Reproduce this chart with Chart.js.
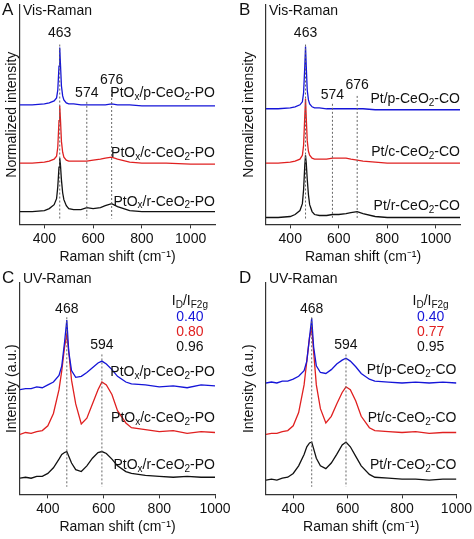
<!DOCTYPE html>
<html><head><meta charset="utf-8">
<script src="https://cdn.jsdelivr.net/npm/chart.js@4"></script>
<style>body{margin:0;background:#fff;width:474px;height:539px;position:relative;overflow:hidden}
.p{position:absolute;width:237px;height:270px}</style></head><body>
<div class="p" style="left:0;top:0"><canvas id="cA"></canvas></div>
<div class="p" style="left:237px;top:0"><canvas id="cB"></canvas></div>
<div class="p" style="left:0;top:270px"><canvas id="cC"></canvas></div>
<div class="p" style="left:237px;top:270px"><canvas id="cD"></canvas></div>
<script>
const visX=[300,350,400,420,440,450,455,460,463,466,470,475,480,490,500,520,550,574,600,630,650,676,700,750,800,900,1000,1100];
const blueA=[121,121,122,123,125,128,136,160,179,162,140,130,126,123,122,122,121,121,121,121,121,122,121,121,120,120,120,120];
const redA=[62,62,63,64,66,69,78,105,120,106,84,73,68,65,64,64,64,64,65,66,67,68,66,63,62,62,61,61];
const blackA=[13,13,14,16,20,26,38,58,67,60,45,32,25,19,16,15,15,17,16,17,19,21,18,14,13,13,13,13];
const blueB=[117,117,118,119,121,124,133,160,180,160,136,126,122,119,118,118,117,117,117,117,117,117,117,116,116,116,116,116];
const redB=[62,62,63,64,66,70,80,110,127,108,85,74,70,67,66,66,66,67,67,67,66,65,64,63,62,62,62,62];
const blackB=[7,7,8,10,14,21,35,60,70,62,46,30,20,13,10,9,9,10,10,11,12,13,11,8,7,7,7,7];
const uvX=[300,320,340,360,380,400,420,440,450,460,468,475,485,500,520,540,560,580,594,610,630,650,680,700,750,800,850,900,950,1000];
const blueC=[110,111,111,113,112,115,118,125,135,160,183,150,130,123,124,128,133,138,140,137,131,124,118,116,115,113,114,112,115,114];
const redC=[63,65,64,66,67,72,85,110,130,155,168,150,120,95,74,80,95,110,118,115,105,88,75,70,68,66,67,64,66,65];
const blackC=[17,18,17,19,19,22,28,37,42,44,45,40,33,26,24,30,38,44,45,43,37,30,24,22,20,19,18,19,18,18];
const blueD=[117,118,117,119,119,121,124,130,140,165,185,155,135,128,127,131,137,141,143,140,134,127,121,119,118,117,118,117,118,117];
const redD=[63,64,64,66,67,72,86,115,140,165,175,150,115,90,75,82,95,107,113,110,98,82,70,67,66,65,66,64,65,65];
const blackD=[15,16,15,17,18,22,30,42,50,54,55,48,38,30,27,33,42,52,55,50,40,30,21,18,17,16,16,15,16,16];
const ticksX=[400,600,800,1000];

const BLUE='#1515d8',RED='#e02020',BLACK='#111';
const F='Liberation Sans, Arial, sans-serif';
function rich(ctx,x,y,parts,align,color){
  ctx.save();ctx.fillStyle=color||'#111';ctx.textBaseline='middle';
  let w=0;parts.forEach(p=>{ctx.font=(p.s?'10px ':'14px ')+F;w+=ctx.measureText(p.t).width;});
  let cx=align==='right'?x-w:align==='center'?x-w/2:x;
  parts.forEach(p=>{ctx.font=(p.s?'10px ':'14px ')+F;ctx.textAlign='left';
    const dy=p.s==='sub'?4:p.s==='sup'?-5:0;ctx.fillText(p.t,cx,y+dy);cx+=ctx.measureText(p.t).width;});
  ctx.restore();
}
const T=s=>({t:s});const SUB=s=>({t:s,s:'sub'});
function make(id,xs,ys,xmax,cfg){
  const ann={id:'ann'+id,afterDatasetsDraw(ch){
    const c=ch.ctx,xs_=ch.scales.x,ys_=ch.scales.y;
    c.save();c.strokeStyle='#666';c.lineWidth=1;c.setLineDash([2,2]);
    cfg.lines.forEach(l=>{c.beginPath();c.moveTo(xs_.getPixelForValue(l[0]),ys_.getPixelForValue(l[1]));c.lineTo(xs_.getPixelForValue(l[0]),ys_.getPixelForValue(l[2]));c.stroke();});
    c.restore();
    cfg.texts.forEach(t=>rich(c,xs_.getPixelForValue(t[0]),ys_.getPixelForValue(t[1]),t[2],t[3],t[4]));
    c.save();c.fillStyle='#111';c.textBaseline='middle';c.font='17px '+F;c.fillText(cfg.letter,cfg.lx,cfg.ly);
    c.font='14px '+F;c.fillText(cfg.title,ch.chartArea.left+3,cfg.ly+1);c.restore();
  }};
  new Chart(document.getElementById(id),{type:'scatter',
    data:{datasets:ys.map((d,i)=>({data:xs.map((x,j)=>({x,y:d[j]})),showLine:true,borderColor:[BLUE,RED,BLACK][i],borderWidth:1.3,pointRadius:0,tension:0}))},
    options:{responsive:false,animation:false,devicePixelRatio:1,
      layout:{padding:cfg.pad},
      plugins:{legend:{display:false},tooltip:{enabled:false}},
      scales:{
        x:{type:'linear',min:300,max:xmax,afterBuildTicks:a=>{a.ticks=ticksX.map(v=>({value:v}));},
          grid:{drawOnChartArea:false,drawTicks:true,tickLength:4,color:'#333'},border:{color:'#333',width:1.2},
          ticks:{color:'#111',font:{size:14,family:F},padding:2,maxRotation:0,callback:v=>String(v)},
          title:{display:true,text:'Raman shift (cm⁻¹)',color:'#111',font:{size:14,family:F},padding:{top:0}}},
        y:{min:0,max:222,grid:{display:false},border:{color:'#333',width:1.2},ticks:{display:false},
          title:{display:true,text:cfg.ytitle,color:'#111',font:{size:14,family:F},padding:{bottom:1}},
          afterFit:s=>{s.width=cfg.yw;}}
      }},plugins:[ann]});
}
document.querySelectorAll('canvas').forEach(c=>{c.width=237;c.height=270;});
const lblA=(a,b)=>[T('PtO'),SUB('x'),T('/'+a+'-CeO'),SUB('2'),T('-'+b)];
const lblB=(a,b)=>[T('Pt/'+a+'-CeO'),SUB('2'),T('-'+b)];
const idr=[T('I'),SUB('D'),T('/I'),SUB('F2g')];
make('cA',visX,[blueA,redA,blackA],1100,{pad:{top:5,right:22,left:0,bottom:0},yw:20,ytitle:'Normalized intensity',letter:'A',lx:2,ly:10,title:'Vis-Raman',
  lines:[[463,182,6],[574,124,6],[676,136,6]],
  texts:[[463,194,[T('463')],'center'],[574,133,[T('574')],'center'],[676,146,[T('676')],'center'],
    [1100,133,lblA('p','PO'),'right'],[1100,72,lblA('c','PO'),'right'],[1100,23,lblA('r','PO'),'right']]});
make('cB',visX,[blueB,redB,blackB],1100,{pad:{top:5,right:14,left:0,bottom:0},yw:29,ytitle:'Normalized intensity',letter:'B',lx:2,ly:10,title:'Vis-Raman',
  lines:[[463,182,6],[574,122,6],[676,130,6]],
  texts:[[463,194,[T('463')],'center'],[574,131,[T('574')],'center'],[676,141,[T('676')],'center'],
    [1100,127,lblB('p','CO'),'right'],[1100,73,lblB('c','CO'),'right'],[1100,18,lblB('r','CO'),'right']]});
make('cC',uvX,[blueC,redC,blackC],1000,{pad:{top:13,right:22,left:0,bottom:0},yw:20,ytitle:'Intensity (a.u.)',letter:'C',lx:2,ly:8,title:'UV-Raman',
  lines:[[468,186,8],[594,147,8]],
  texts:[[468,195,[T('468')],'center'],[594,157,[T('594')],'center'],
    [910,203,idr,'center'],[910,186,[T('0.40')],'center',BLUE],[910,170,[T('0.80')],'center',RED],[910,155,[T('0.96')],'center'],
    [1000,128,lblA('p','PO'),'right'],[1000,80,lblA('c','PO'),'right'],[1000,31,lblA('r','PO'),'right']]});
make('cD',uvX,[blueD,redD,blackD],1000,{pad:{top:13,right:14,left:0,bottom:0},yw:29,ytitle:'Intensity (a.u.)',letter:'D',lx:2,ly:8,title:'UV-Raman',
  lines:[[468,186,8],[594,147,8]],
  texts:[[468,195,[T('468')],'center'],[594,157,[T('594')],'center'],
    [905,203,idr,'center'],[905,186,[T('0.40')],'center',BLUE],[905,170,[T('0.77')],'center',RED],[905,155,[T('0.95')],'center'],
    [1000,130,lblB('p','CO'),'right'],[1000,80,lblB('c','CO'),'right'],[1000,31,lblB('r','CO'),'right']]});
</script></body></html>
